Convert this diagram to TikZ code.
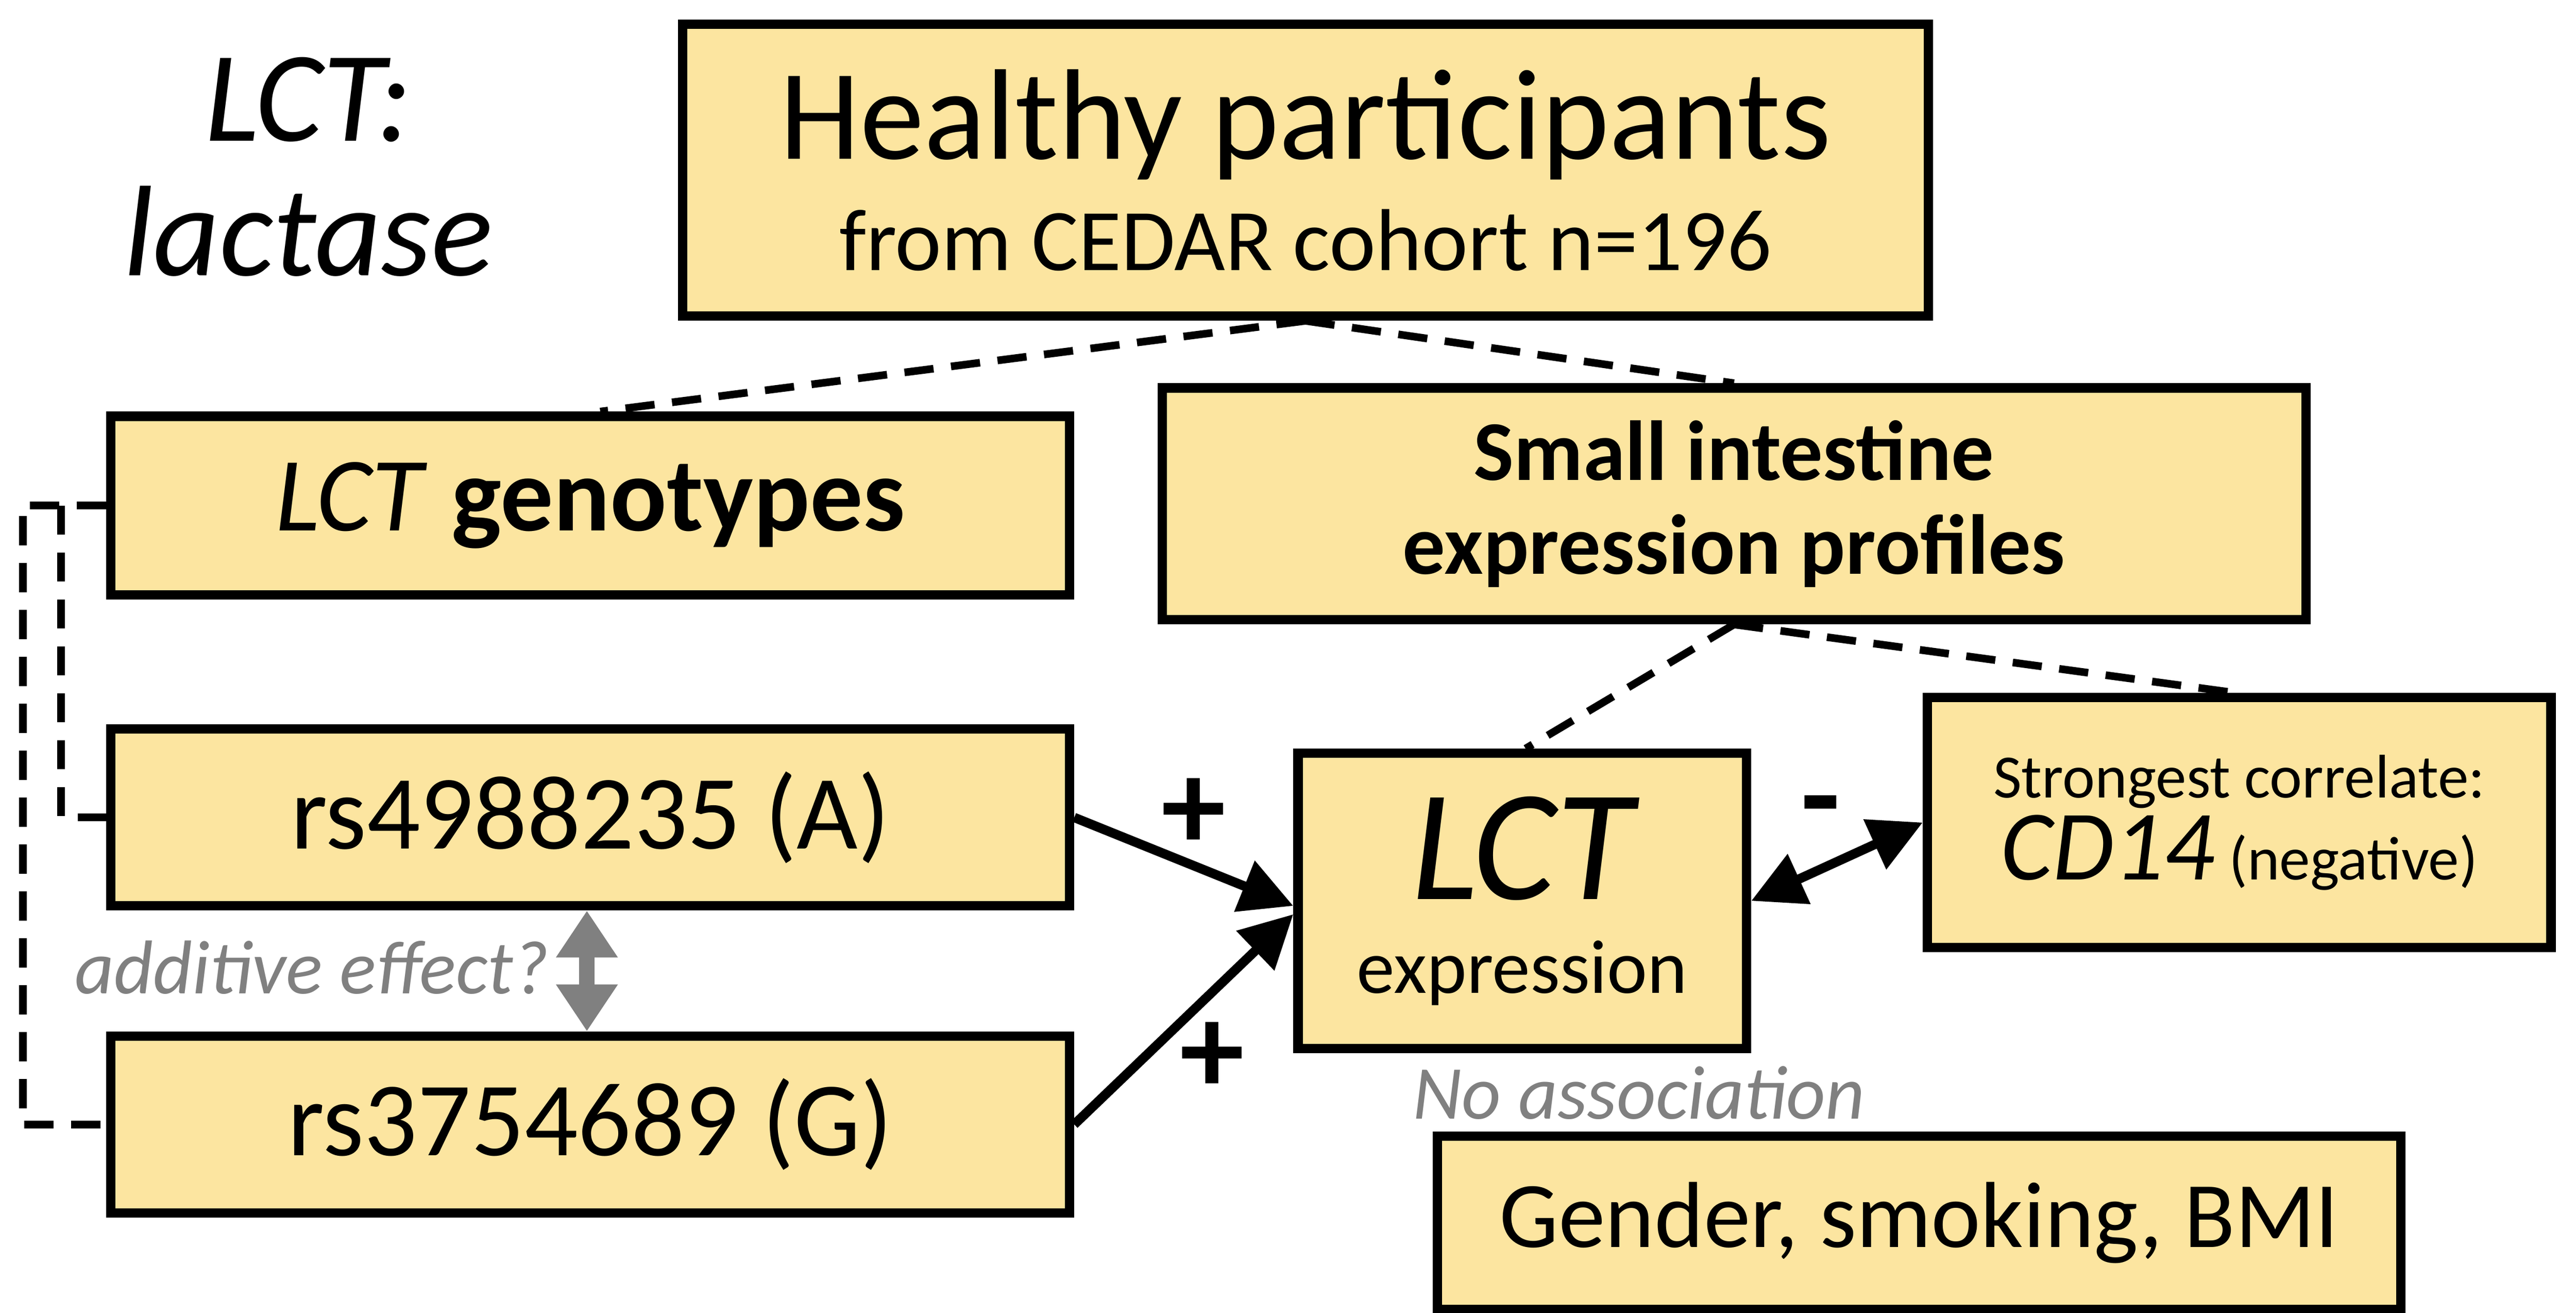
\documentclass[tikz,border=0pt]{standalone}
\usepackage{fontspec}
\setmainfont{Carlito}
\usetikzlibrary{arrows.meta,calc}
\definecolor{boxfill}{HTML}{FCE5A0}
\tikzset{
  box/.style={draw=black, line width=1.6pt, fill=boxfill, inner sep=0pt, align=center},
  link/.style={dashed, line width=1.3pt, dash pattern=on 5pt off 3pt},
  effect/.style={line width=1.6pt, -{Triangle[length=9pt,width=9pt]}},
  sign/.style={font=\fontsize{22}{24}\selectfont\bfseries},
  note/.style={text=gray, font=\itshape}
}
\begin{document}
\begin{tikzpicture}[x=0.1mm,y=-0.1mm]
  \useasboundingbox (0,0) rectangle (1545,787);
  % title
  \node[font=\fontsize{22}{26}\selectfont\itshape, align=center] (title) at (185,100) {LCT:\\[-3pt]lactase};
  % boxes
  \node[box, minimum width=74.7mm, minimum height=17.5mm, font=\fontsize{15}{19}\selectfont] (cohort) at (783,102)
    {{\fontsize{22}{27}\selectfont Healthy participants}\\from CEDAR cohort n=196};
  \node[box, minimum width=57.5mm, minimum height=10.7mm, font=\fontsize{18}{22}\selectfont] (geno) at (354,303)
    {\textit{LCT} \textbf{genotypes}};
  \node[box, minimum width=68.6mm, minimum height=13.9mm, font=\fontsize{14.5}{16}\selectfont\bfseries] (profile) at (1040,302)
    {Small intestine\\expression profiles};
  \node[box, minimum width=57.5mm, minimum height=10.6mm, font=\fontsize{18}{22}\selectfont] (snpA) at (354,490) {rs4988235 (A)};
  \node[box, minimum width=57.5mm, minimum height=10.6mm, font=\fontsize{18}{22}\selectfont] (snpG) at (354,674) {rs3754689 (G)};
  \node[box, minimum width=26.9mm, minimum height=17.7mm, font=\fontsize{13}{16}\selectfont] (expr) at (913,540)
    {{\fontsize{27}{30}\selectfont\itshape LCT}\\expression};
  \node[box, minimum width=37.4mm, minimum height=15mm, font=\fontsize{10.5}{14}\selectfont] (corr) at (1343,493)
    {Strongest correlate:\\{\fontsize{17}{20}\selectfont\itshape CD14} (negative)};
  \node[box, minimum width=57.8mm, minimum height=10.4mm, font=\fontsize{16}{20}\selectfont] (covar) at (1151,733) {Gender, smoking, BMI};
  % notes
  \node[note, font=\fontsize{13}{16}\selectfont\itshape] (noassoc) at (983,655) {No association};
  \node[note, font=\fontsize{13}{16}\selectfont\itshape] (additive) at (187,580) {additive effect?};
  % dashed hierarchy
  \draw[link] (cohort.south) -- ($(geno.north)+(6,0)$);
  \draw[link] (cohort.south) -- (profile.north);
  \draw[link] (profile.south) -- ($(expr.north)+(2,0)$);
  \draw[link] (profile.south) -- ($(corr.north)+(-3,0)$);
  \draw[link] (geno.west) -- ++(-50,0) |- (snpG.west);
  \draw[link] ($(geno.west)+(-27,0)$) |- (snpA.west);
  % effects
  \draw[effect] (snpA.east) -- ($(expr.west)+(0,3)$);
  \draw[effect] (snpG.east) -- ($(expr.west)+(0,8)$);
  \node[sign] (plusA) at (716,488) {+};
  \node[sign] (plusG) at (727,634) {+};
  \draw[line width=1.6pt, {Triangle[length=9pt,width=9pt]}-{Triangle[length=9pt,width=9pt]}] (expr.east) -- (corr.west);
  \node[sign] (minus) at (1092,490) {-};
  \draw[gray, line width=2.6pt, {Triangle[length=8pt,width=10pt]}-{Triangle[length=8pt,width=10pt]}]
    ($(snpA.south)+(-2,0)$) -- ($(snpG.north)+(-2,0)$);
\end{tikzpicture}
\end{document}
